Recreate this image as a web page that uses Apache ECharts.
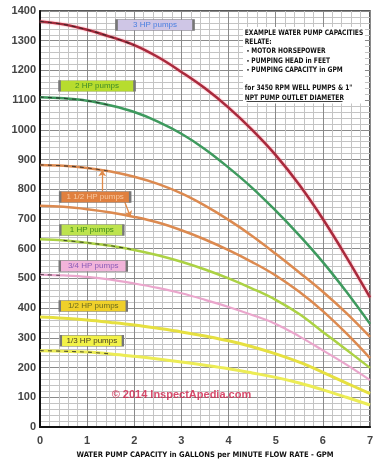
<!DOCTYPE html>
<html><head><meta charset="utf-8">
<script src="https://cdn.jsdelivr.net/npm/echarts@6/dist/echarts.min.js"></script>
<style>html,body{margin:0;padding:0;background:#fff}#c{width:386px;height:461px}</style>
</head><body><div id="c"></div>
<script>
const flow = [0,0.5,1,1.5,2,2.5,3,3.5,4,4.5,5,5.5,6,6.5,7];
const hp3   = [1365,1355,1337,1313,1285,1245,1195,1140,1075,1000,915,815,700,572,436];
const hp2   = [1110,1106,1098,1082,1060,1028,987,935,873,805,728,645,555,455,347];
const hp15a = [882,879,872,860,842,818,786,745,697,643,583,520,455,383,303];
const hp15b = [745,741,733,722,707,688,662,631,595,555,510,455,390,315,232];
const hp1   = [632,628,620,610,596,578,556,530,500,466,428,380,320,260,199];
const hp34  = [513,510,505,496,483,468,450,428,404,377,347,305,258,210,158];
const hp12  = [370,366,360,352,343,332,320,306,290,270,246,218,184,148,112];
const hp13  = [257,255,252,246,238,229,219,208,196,182,167,148,125,100,74];
const yTicks = [0,100,200,300,400,500,600,700,800,900,1000,1100,1200,1300,1400];
const xTicks = [0,1,2,3,4,5,6,7];

const pair = a => flow.map((x,i)=>[x,a[i]]);
const part = (a,i0,i1) => pair(a).slice(i0,i1+1);
const boxFont = 'Arial, "Liberation Sans", sans-serif';
const narrow = '"Liberation Sans Narrow","DejaVu Sans Condensed",Arial,sans-serif';
function tag(text, x, y, w, bg, fg, border){
  return {coord:[x,y], symbol:'rect', symbolSize:[w,11],
    itemStyle:{color:bg, borderColor:border||'#777', borderWidth:1},
    label:{show:true, position:'inside', formatter:text, color:fg, fontSize:8, fontFamily:boxFont}};
}
function line(name, data, color, width, extra){
  return Object.assign({type:'line', name, data:pair(data), smooth:0.4, symbol:'none',
    lineStyle:{color, width}, z:3, silent:true}, extra||{});
}
function dash(a,i0,i1){
  return {type:'line', data:part(a,i0,i1), smooth:0.4, symbol:'none', silent:true, z:4,
    lineStyle:{color:'#222', width:1.1, type:[4,4], opacity:0.75}};
}
const series = [
  line('3 HP', hp3, '#a82a3c', 2.5, {lineStyle:{color:'#a82a3c', width:2.4, shadowColor:'rgba(255,120,140,0.9)', shadowBlur:2},
    markPoint:{silent:true, data:[tag('3 HP pumps',2.44,1353,77,'#cfc6e6','#4a7fe0')]}}),
  line('2 HP', hp2, '#3e9a5e', 2.5, {markPoint:{silent:true, data:[tag('2 HP pumps',1.21,1148,75,'#b7dc2e','#3f8a2a')]}}),
  line('1 1/2 HP a', hp15a, '#dc8a50', 2.5, {markPoint:{silent:true, data:[tag('1 1/2 HP pumps',1.17,774,70,'#e0803f','#f8c8a0')]},
    markLine:{silent:true, symbol:['none','arrow'], symbolSize:6, label:{show:false},
      lineStyle:{color:'#e08a4a', width:1.3, type:'solid'},
      data:[[{coord:[1.32,793]},{coord:[1.32,864]}],[{coord:[1.8,756]},{coord:[1.92,707]}]]}}),
  line('1 1/2 HP b', hp15b, '#dc8a50', 2.5),
  line('1 HP', hp1, '#acd244', 2.5, {markPoint:{silent:true, data:[tag('1 HP pumps',1.1,663,63,'#bde34e','#3f8a1a')]}}),
  line('3/4 HP', hp34, '#eaa6cc', 2.2, {markPoint:{silent:true, data:[tag('3/4 HP pumps',1.13,542,67,'#f2b4da','#8a5cb8')]}}),
  line('1/2 HP', hp12, '#e6e040', 3, {markPoint:{silent:true, data:[tag('1/2 HP pumps',1.13,407,67,'#f0d02a','#6a6a20')]}}),
  line('1/3 HP', hp13, '#ecec55', 3, {markPoint:{silent:true, data:[tag('1/3 HP pumps',1.1,290,62,'#f2f248','#4a4020')]}}),
  dash(hp3,0,4), dash(hp2,0,3), dash(hp15a,0,3), dash(hp1,1,4), dash(hp34,0,1), dash(hp13,0,3),
  {type:'scatter', data:[[3.0,108]], symbolSize:0, silent:true, z:5,
    label:{show:true, position:'inside', formatter:'© 2014 InspectApedia.com', color:'#d0204a', fontSize:11, fontWeight:'bold', fontFamily:boxFont}}
];
const chart = echarts.init(document.getElementById('c'), null, {renderer:'canvas'});
chart.setOption({
  animation:false,
  backgroundColor:'#fff',
  grid:{left:40, right:16, top:11, bottom:34, show:true, borderColor:'#222', borderWidth:1.5,
    containLabel:false, outerBoundsMode:'none'},
  xAxis:{type:'value', min:0, max:7, interval:1,
    axisLine:{show:true, lineStyle:{color:'#111', width:2}}, axisTick:{show:false},
    axisLabel:{color:'#444', fontSize:11, fontWeight:'bold', fontFamily:boxFont, margin:8,
      formatter:v=>xTicks.includes(v)?String(v):''},
    splitLine:{show:true, lineStyle:{color:'#8a8a8a', width:1}},
    minorTick:{show:false, splitNumber:5},
    minorSplitLine:{show:true, lineStyle:{color:'#c4c4c4', width:1}},
    name:'WATER PUMP CAPACITY in GALLONS per MINUTE FLOW RATE - GPM', nameLocation:'middle', nameGap:23,
    nameTextStyle:{color:'#111', fontSize:7.6, fontWeight:'bold', fontFamily:narrow}},
  yAxis:{type:'value', min:0, max:1400, interval:100,
    axisLine:{show:true, lineStyle:{color:'#111', width:2}}, axisTick:{show:false},
    axisLabel:{color:'#444', fontSize:11, fontWeight:'bold', fontFamily:boxFont, margin:4,
      formatter:v=>yTicks.includes(v)?String(v):''},
    splitLine:{show:true, lineStyle:{color:'#8a8a8a', width:1}},
    minorTick:{show:false, splitNumber:5},
    minorSplitLine:{show:true, lineStyle:{color:'#c4c4c4', width:1}},
    name:'PUMPING HEAD - FEET', nameLocation:'middle', nameGap:32, nameRotate:90,
    nameTextStyle:{color:'#111', fontSize:7.6, fontWeight:'bold', fontFamily:narrow}},
  graphic:[{type:'text', left:243, top:27, z:10, silent:true, scaleX:0.88,
    style:{text:'EXAMPLE WATER PUMP CAPACITIES\nRELATE:\n - MOTOR HORSEPOWER\n - PUMPING HEAD in FEET\n - PUMPING CAPACITY in GPM\n\nfor 3450 RPM WELL PUMPS & 1"\nNPT PUMP OUTLET DIAMETER',
      fill:'#111', font:'bold 7.5px "Liberation Sans Narrow","DejaVu Sans Condensed",Arial,sans-serif', lineHeight:9.3,
      backgroundColor:'#fff', padding:[1,2]}},
    {type:'line', left:244, top:99, z:11, silent:true, shape:{x1:0,y1:0,x2:96,y2:0}, style:{stroke:'#111', lineWidth:0.8}}],
  series
});
</script></body></html>
